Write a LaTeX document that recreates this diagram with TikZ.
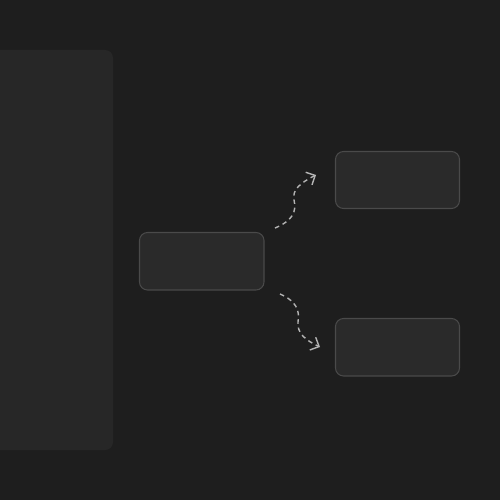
\documentclass[tikz,border=0pt]{standalone}
\usetikzlibrary{arrows.meta}
\definecolor{bgc}{HTML}{1E1E1E}
\definecolor{panelc}{HTML}{272727}
\definecolor{boxfill}{HTML}{2A2A2A}
\definecolor{boxline}{HTML}{4A4A4A}
\definecolor{arrowc}{HTML}{B4B4B4}
\begin{document}
\begin{tikzpicture}[x=0.02cm,y=-0.02cm,
  cardbox/.style={draw=boxline,fill=boxfill,line width=0.6pt,rounded corners=0.16cm},
  flowarrow/.style={draw=arrowc,line width=0.8pt,dash pattern=on 2.6pt off 2.2pt,
    -{Straight Barb[length=4pt,width=8pt,line width=0.8pt]}}]
\fill[bgc] (0,0) rectangle (500,500);
\useasboundingbox (0,0) rectangle (500,500);
\fill[panelc,rounded corners=0.16cm] (-20,50) rectangle (113,450);
\draw[cardbox] (139.5,232.5) rectangle (264,290);
\draw[cardbox] (335.5,151.5) rectangle (459.5,208.5);
\draw[cardbox] (335.5,318.5) rectangle (459.5,376);
\coordinate (s1) at (275,228);
\coordinate (e1) at (316,175);
\coordinate (s2) at (280,294);
\coordinate (e2) at (320,347);
\draw[flowarrow] (s1) .. controls (292,221) and (297,212) .. (294,200)
  .. controls (292,190) and (300,183) .. (e1);
\draw[flowarrow] (s2) .. controls (296,301) and (300,310) .. (298,322)
  .. controls (297,333) and (305,340) .. (e2);
\end{tikzpicture}
\end{document}
